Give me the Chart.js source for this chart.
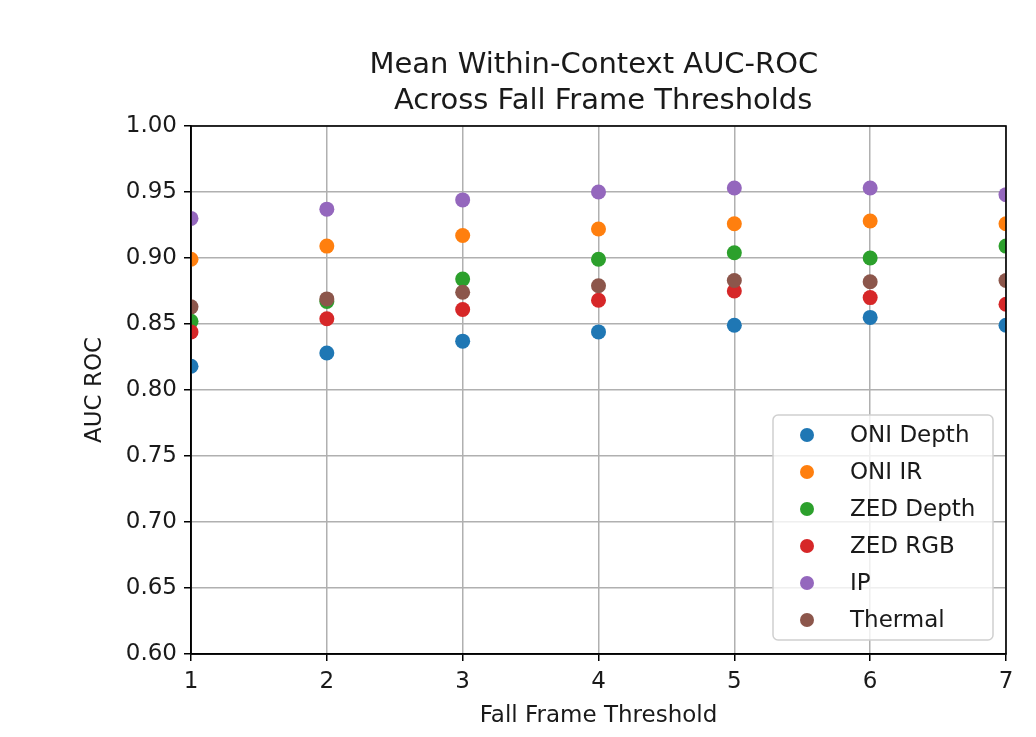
<!DOCTYPE html>
<html>
<head>
<meta charset="utf-8">
<script src="https://cdn.jsdelivr.net/npm/chart.js@4"></script>
<style>
  html, body { margin: 0; padding: 0; background: #fff; }
  canvas { display: block; }
</style>
</head>
<body>
<canvas id="auc-chart" width="1036" height="737"></canvas>
<script>
const thresholds = [1, 2, 3, 4, 5, 6, 7];
const yTicks = [0.60, 0.65, 0.70, 0.75, 0.80, 0.85, 0.90, 0.95, 1.00];

const seriesNames = ['ONI Depth', 'ONI IR', 'ZED Depth', 'ZED RGB', 'IP', 'Thermal'];
const seriesColors = ['#1f77b4', '#ff7f0e', '#2ca02c', '#d62728', '#9467bd', '#8c564b'];

const oniDepth = [0.818, 0.828, 0.837, 0.844, 0.849, 0.855, 0.849];
const oniIR    = [0.899, 0.909, 0.917, 0.922, 0.926, 0.928, 0.926];
const zedDepth = [0.852, 0.867, 0.884, 0.899, 0.904, 0.900, 0.909];
const zedRGB   = [0.844, 0.854, 0.861, 0.868, 0.875, 0.870, 0.865];
const ipVals   = [0.930, 0.937, 0.944, 0.950, 0.953, 0.953, 0.948];
const thermal  = [0.863, 0.869, 0.874, 0.879, 0.883, 0.882, 0.883];

const allSeries = [oniDepth, oniIR, zedDepth, zedRGB, ipVals, thermal];

const titleLines = ['Mean Within-Context AUC-ROC ', ' Across Fall Frame Thresholds'];

const FONT = 'DejaVu Sans';
const TEXT = '#1a1a1a';

// title centred over the plot, like matplotlib's ax.set_title
const titlePlugin = {
  id: 'axTitle',
  afterDraw(chart) {
    const { ctx, chartArea } = chart;
    const cx = (chartArea.left + chartArea.right) / 2;
    ctx.save();
    ctx.font = `29px "${FONT}"`;
    ctx.fillStyle = TEXT;
    ctx.textAlign = 'center';
    ctx.textBaseline = 'middle';
    ctx.fillText(titleLines[0], cx, chartArea.top - 61);
    ctx.fillText(titleLines[1], cx, chartArea.top - 25);
    ctx.restore();
  }
};

// black box around the axes (top + right spines)
const framePlugin = {
  id: 'frame',
  afterDraw(chart) {
    const { ctx, chartArea: a } = chart;
    ctx.save();
    ctx.strokeStyle = '#000';
    ctx.lineWidth = 1.6;
    ctx.strokeRect(a.left, a.top, a.right - a.left, a.bottom - a.top);
    ctx.restore();
  }
};

// legend inside the axes, lower right
const legendPlugin = {
  id: 'innerLegend',
  afterDraw(chart) {
    const { ctx, chartArea: a } = chart;
    const w = 220, h = 225;
    const x = a.right - 13 - w, y = a.bottom - 14 - h;
    ctx.save();
    ctx.beginPath();
    ctx.roundRect(x, y, w, h, 5);
    ctx.fillStyle = 'rgba(255,255,255,0.8)';
    ctx.fill();
    ctx.strokeStyle = '#d0d0d0';
    ctx.lineWidth = 1.5;
    ctx.stroke();
    ctx.font = `23px "${FONT}"`;
    ctx.textBaseline = 'middle';
    ctx.textAlign = 'left';
    chart.data.datasets.forEach((ds, i) => {
      const ry = y + 20 + i * 37;
      ctx.beginPath();
      ctx.arc(x + 34, ry, 7, 0, Math.PI * 2);
      ctx.fillStyle = ds.backgroundColor;
      ctx.fill();
      ctx.fillStyle = TEXT;
      ctx.fillText(ds.label, x + 77, ry + 1);
    });
    ctx.restore();
  }
};

const datasets = seriesNames.map((name, i) => ({
  label: name,
  data: thresholds.map((t, k) => ({ x: t, y: allSeries[i][k] })),
  backgroundColor: seriesColors[i],
  borderColor: seriesColors[i],
  borderWidth: 0,
  pointRadius: 7.5,
  order: seriesNames.length - i,
  clip: 0,
}));

new Chart(document.getElementById('auc-chart'), {
  type: 'scatter',
  data: { datasets },
  plugins: [titlePlugin, framePlugin, legendPlugin],
  options: {
    responsive: false,
    animation: false,
    devicePixelRatio: 1,
    layout: { padding: { top: 126, right: 30, left: 0, bottom: 0 } },
    plugins: {
      legend: { display: false },
      tooltip: { enabled: false },
      title: { display: false },
    },
    scales: {
      x: {
        type: 'linear',
        min: 1, max: 7,
        afterFit: s => { s.height = 83; },
        afterBuildTicks: s => { s.ticks = thresholds.map(v => ({ value: v })); },
        grid: { color: '#b0b0b0', lineWidth: 1.5, tickLength: 7, tickColor: '#000', tickWidth: 1.5 },
        border: { color: '#000', width: 1.6 },
        ticks: { color: TEXT, font: { family: FONT, size: 23 }, padding: 7, maxRotation: 0 },
        title: {
          display: true, text: 'Fall Frame Threshold', color: TEXT,
          font: { family: FONT, size: 23 }, padding: { top: 0, bottom: 7 },
        },
      },
      y: {
        type: 'linear',
        min: 0.6, max: 1.0,
        afterFit: s => { s.width = 191; },
        afterBuildTicks: s => { s.ticks = yTicks.map(v => ({ value: v })); },
        grid: { color: '#b0b0b0', lineWidth: 1.5, tickLength: 7, tickColor: '#000', tickWidth: 1.5 },
        border: { color: '#000', width: 1.6 },
        ticks: { color: TEXT, font: { family: FONT, size: 23 }, padding: 7, callback: v => v.toFixed(2) },
        title: {
          display: true, text: 'AUC ROC', color: TEXT,
          font: { family: FONT, size: 23 }, padding: { top: 81, bottom: 0 },
        },
      },
    },
  },
});
</script>
</body>
</html>
